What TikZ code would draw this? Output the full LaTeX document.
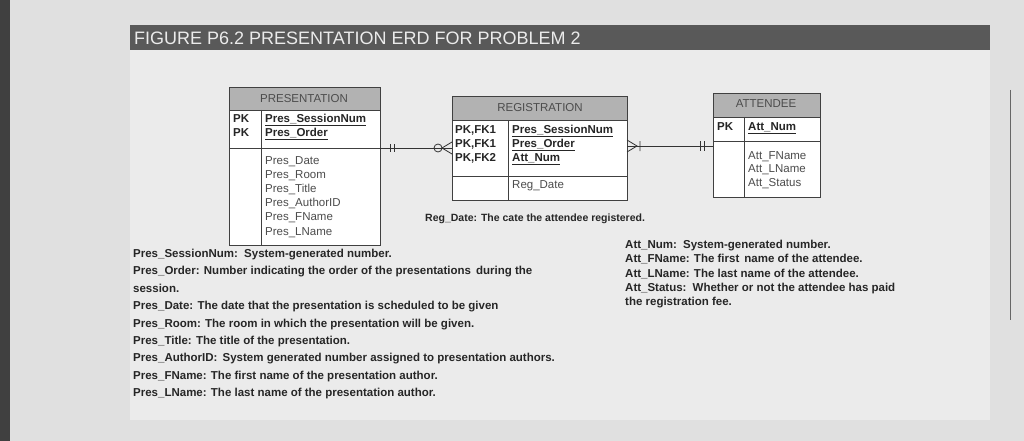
\documentclass[tikz,border=0pt]{standalone}
\usepackage{fontspec}
\setmainfont{Liberation Sans}
\begin{document}
\begin{tikzpicture}[x=1pt,y=-1pt,
  tb/.style={draw=black!75,line width=0.8pt},
  hd/.style={fill=black!30},
  attr/.style={font=\fontsize{11.5}{14.2}\selectfont,anchor=north west,align=left,inner sep=0pt,text=black!70},
  pkt/.style={font=\bfseries\fontsize{11.5}{14}\selectfont,anchor=north west,align=left,inner sep=0pt,text=black!85},
  nt/.style={font=\bfseries\fontsize{11.5}{17.4}\selectfont,anchor=north west,align=left,inner sep=0pt,text=black!85},
  rel/.style={draw=black!80,line width=0.8pt}]
\useasboundingbox (0,0) rectangle (1024,441);
\fill[black!12] (0,0) rectangle (1024,441);
\fill[black!75] (0,0) rectangle (10,441);
\fill[black!8] (130,50) rectangle (990,420);
\fill[black!65] (130,25) rectangle (990,50);
\node[anchor=west,text=black!8,font=\fontsize{18}{19}\selectfont,inner sep=0pt] (title) at (134,38) {FIGURE P6.2  PRESENTATION ERD FOR PROBLEM 2};
\draw[black!60,line width=1pt] (1010,90) -- (1010,320);
% PRESENTATION
\fill[white] (229,87) rectangle (380,245);
\fill[hd] (229,87) rectangle (380,110);
\draw[tb] (229,87) rectangle (380,245);
\draw[tb] (229,110) -- (380,110) (229,148) -- (380,148) (261,110) -- (261,245);
\node[attr,anchor=center] (ph) at (304,99) {PRESENTATION};
\node[pkt] (ppk) at (233,114) {PK\\PK};
\node[pkt] (ppka) at (265,114) {\underline{Pres\_SessionNum}\\\underline{Pres\_Order}};
\node[attr] (pat) at (265,156) {Pres\_Date\\Pres\_Room\\Pres\_Title\\Pres\_AuthorID\\Pres\_FName\\Pres\_LName};
% REGISTRATION
\fill[white] (452,96) rectangle (627,200);
\fill[hd] (452,96) rectangle (627,120);
\draw[tb] (452,96) rectangle (627,200);
\draw[tb] (452,120) -- (627,120) (452,176) -- (627,176) (508,120) -- (508,200);
\node[attr,anchor=center] (rh) at (540,108) {REGISTRATION};
\node[pkt] (rpk) at (455,125) {PK,FK1\\PK,FK1\\PK,FK2};
\node[pkt] (rpka) at (512,125) {\underline{Pres\_SessionNum}\\\underline{Pres\_Order}\\\underline{Att\_Num}};
\node[attr] (rat) at (512,180) {Reg\_Date};
% ATTENDEE
\fill[white] (713,93) rectangle (820,197);
\fill[hd] (713,93) rectangle (820,117);
\draw[tb] (713,93) rectangle (820,197);
\draw[tb] (713,117) -- (820,117) (713,141) -- (820,141) (744,117) -- (744,197);
\node[attr,anchor=center] (ah) at (766,104) {ATTENDEE};
\node[pkt] (apk) at (717,122) {PK};
\node[pkt] (apka) at (748,122) {\underline{Att\_Num}};
\node[attr,font=\fontsize{11.5}{13.5}\selectfont] (aat) at (748,151) {Att\_FName\\Att\_LName\\Att\_Status};
% relationships
\coordinate (p1) at (380,148); \coordinate (r1) at (452,148);
\draw[rel] (p1) -- (r1);
\draw[rel] (390,144) -- (390,152) (394,144) -- (394,152);
\draw[rel] (438,148) circle (4);
\draw[rel] (452,142) -- (442,148) -- (452,154);
\coordinate (r2) at (627,146); \coordinate (a2) at (713,146);
\draw[rel] (r2) -- (a2);
\draw[rel] (627,140) -- (637,146) -- (627,152) (640,141) -- (640,151);
\draw[rel] (700,141) -- (700,151) (704,141) -- (704,151);
% notes
\node[nt,font=\bfseries\fontsize{10.5}{12}\selectfont] (n1) at (425,214) {Reg\_Date: The cate the attendee registered.};
\node[nt] (n2) at (133,249) {Pres\_SessionNum:\, System-generated number.\\Pres\_Order: Number indicating the order of the presentations\, during the\\session.\\Pres\_Date: The date that the presentation is scheduled to be given\\Pres\_Room: The room in which the presentation will be given.\\Pres\_Title: The title of the presentation.\\Pres\_AuthorID:\, System generated number assigned to presentation authors.\\Pres\_FName: The first name of the presentation author.\\Pres\_LName: The last name of the presentation author.};
\node[nt,font=\bfseries\fontsize{11.5}{14.3}\selectfont] (n3) at (625,240) {Att\_Num:\, System-generated number.\\Att\_FName: The first\, name of the attendee.\\Att\_LName: The last name of the attendee.\\Att\_Status:\, Whether or not the attendee has paid\\the registration fee.};
\end{tikzpicture}
\end{document}
